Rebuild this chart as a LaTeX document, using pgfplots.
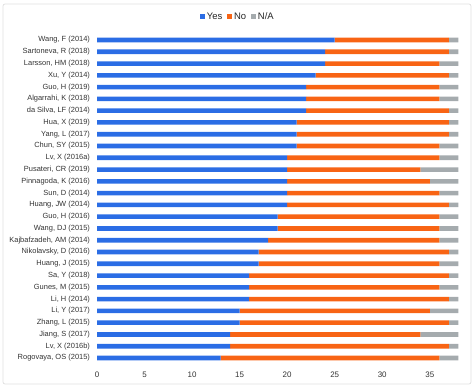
\documentclass[border=0pt]{standalone}
\usepackage{pgfplots}
\pgfplotsset{compat=1.18}
\usepackage{pgfplotstable}
\usepackage{fontspec}
\setmainfont{Liberation Sans}
\definecolor{cyes}{HTML}{2B6DE5}
\definecolor{cno}{HTML}{F86414}
\definecolor{cna}{HTML}{A5ABAE}
\pgfplotstableread{
idx yes no na
0 25 12 1
1 24 13 1
2 24 12 2
3 23 14 1
4 22 14 2
5 22 14 2
6 22 15 1
7 21 16 1
8 21 16 1
9 21 15 2
10 20 16 2
11 20 14 4
12 20 15 3
13 20 16 2
14 20 17 1
15 19 17 2
16 19 17 2
17 18 18 2
18 17 20 1
19 17 19 2
20 16 21 1
21 16 20 2
22 16 21 1
23 15 20 3
24 15 22 1
25 14 20 4
26 14 23 1
27 13 23 2
}\data
\begin{document}
\begin{tikzpicture}
\path (0,0) rectangle (474bp,-392bp);
\draw[black!12, line width=0.8bp, rounded corners=2bp] (3bp,-4bp) rectangle (471bp,-384bp);
\begin{axis}[
  at={(97bp,-363.9bp)}, anchor=south west,
  scale only axis, width=361.3bp, height=329.8bp,
  xbar stacked, bar width=4.6bp,
  xmin=0, xmax=38, ymin=-0.5, ymax=27.5, y dir=reverse,
  ytick={0,...,27},
  yticklabels={{Wang, F (2014)},{Sartoneva, R (2018)},{Larsson, HM (2018)},{Xu, Y (2014)},{Guo, H (2019)},{Algarrahi, K (2018)},{da Silva, LF (2014)},{Hua, X (2019)},{Yang, L (2017)},{Chun, SY (2015)},{Lv, X (2016a)},{Pusateri, CR (2019)},{Pinnagoda, K (2016)},{Sun, D (2014)},{Huang, JW (2014)},{Guo, H (2016)},{Wang, DJ (2015)},{Kajbafzadeh, AM (2014)},{Nikolavsky, D (2016)},{Huang, J (2015)},{Sa, Y (2018)},{Gunes, M (2015)},{Li, H (2014)},{Li, Y (2017)},{Zhang, L (2015)},{Jiang, S (2017)},{Lv, X (2016b)},{Rogovaya, OS (2015)}},
  xtick={0,5,...,35},
  axis line style={draw=none}, major tick length=0pt,
  /pgf/number format/assume math mode=true,
  tick label style={font=\fontsize{7.5}{9}\selectfont, text=black!80},
  xticklabel style={font=\fontsize{8}{9}\selectfont, yshift=-5bp},
  yticklabel style={xshift=-3.5bp},
  legend columns=3,
  legend style={at={(0.39,1)}, anchor=south, yshift=10bp, draw=none, fill=none,
    font=\fontsize{9.5}{10}\selectfont, text=black!85,
    /tikz/every even column/.append style={column sep=3bp},
    inner sep=1bp},
  legend image code/.code={\fill[#1] (1bp,-2.4bp) rectangle (5.8bp,2.4bp);},
]
\addplot[fill=cyes, draw=none] table[x=yes, y=idx] {\data};
\addplot[fill=cno, draw=none] table[x=no, y=idx] {\data};
\addplot[fill=cna, draw=none] table[x=na, y=idx] {\data};
\legend{Yes, No, N/A}
\end{axis}
\end{tikzpicture}
\end{document}
